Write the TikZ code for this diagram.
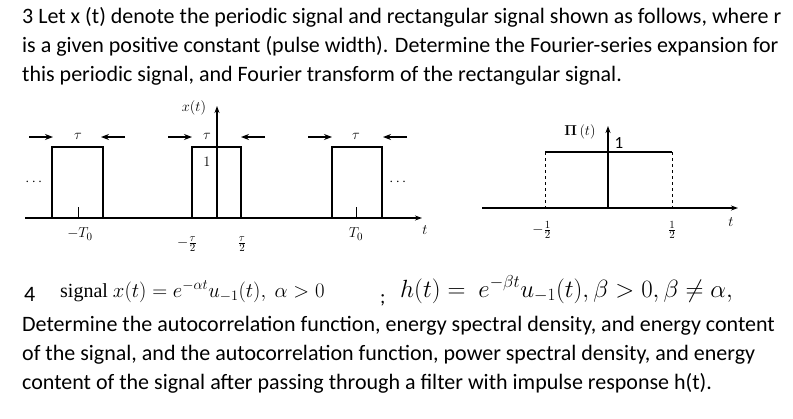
\documentclass[tikz,border=0pt]{standalone}
\usepackage[no-math]{fontspec}
\usepackage{amsmath}
\usetikzlibrary{arrows.meta}
\setmainfont{Carlito}
\newfontfamily\tms{Liberation Serif}
\begin{document}
\begin{tikzpicture}[x=1pt,y=-1pt,
  txt/.style={anchor=base west,inner sep=0pt,font=\fontsize{22}{24}\selectfont},
  sig/.style={line width=2.6pt},
  ax/.style={line width=2.2pt,-{Stealth[length=7pt,width=5pt]}},
  lab/.style={inner sep=0pt,font=\fontsize{15}{16}\selectfont},
  dimarr/.style={line width=1.2pt,-{Stealth[length=8pt,width=6pt]}}]
\useasboundingbox (0,0) rectangle (793,418);
\fill[white] (0,0) rectangle (793,418);
\node[txt] (l1) at (22,23) {3 Let x (t) denote the periodic signal and rectangular signal shown as follows, where r};
\node[txt] (l2) at (22,52) {is a given positive constant (pulse width). Determine the Fourier-series expansion for};
\node[txt] (l3) at (22,81) {this periodic signal, and Fourier transform of the rectangular signal.};
% left figure
\coordinate (a0) at (25,218); \coordinate (a1) at (422,218);
\draw[ax] (a0) -- (a1);
\coordinate (v0) at (217,218); \coordinate (v1) at (217,106);
\draw[ax] (v0) -- (v1);
\draw[sig] (52,218) -- (52,147) -- (103,147) -- (103,218);
\draw[sig] (192,218) -- (192,147) -- (241,147) -- (241,218);
\draw[sig] (332,218) -- (332,147) -- (382,147) -- (382,218);
\draw[line width=0.8pt] (78,218) -- (78,207) (356,218) -- (356,207);
\node[lab] (xt) at (194,108) {$x(t)$};
\node[lab] (one) at (207,162) {$1$};
\node[lab] (tm) at (80,234) {$-T_0$};
\node[lab] (tp) at (356,234) {$T_0$};
\node[lab] (hm) at (187,244) {$-\frac{\tau}{2}$};
\node[lab] (hp) at (242,244) {$\frac{\tau}{2}$};
\node[lab] (tl) at (425,230) {$t$};
\foreach \c/\l/\r in {78/29/125, 207/168/265, 356/308/407}{
  \node[lab] at (\c,136) {$\tau$};
  \draw[dimarr] (\l,137) -- (\l+24,137);
  \draw[dimarr] (\r,137) -- (\r-24,137);
}
\node[lab] (d1) at (35,182) {$\cdots$};
\node[lab] (d2) at (399,182) {$\cdots$};
% right figure
\draw[line width=1.5pt,-{Stealth[length=7pt,width=5pt]}] (482,208) -- (738,208);
\draw[line width=1.5pt,-{Stealth[length=7pt,width=5pt]}] (608,208) -- (608,126);
\draw[line width=2.4pt] (545,152) -- (672,152);
\draw[dashed,line width=0.9pt] (545,152) -- (545,208) (672,152) -- (672,208);
\node[lab] (pi) at (580,132) {$\mathbf{\Pi}\,(t)$};
\node[lab] (one2) at (619,143) {\fontsize{17}{17}\selectfont 1};
\node[lab] (m12) at (542,230) {$-\frac{1}{2}$};
\node[lab] (p12) at (672,230) {$\frac{1}{2}$};
\node[lab] (t2) at (731,222) {$t$};
% problem 4
\node[txt] (n4) at (24,301) {4};
\node[anchor=base west,inner sep=0pt,font=\fontsize{20}{22}\selectfont] (eq1) at (60,297) {\tms signal $x(t)=e^{-\alpha t}u_{-1}(t),\ \alpha>0$};
\node[anchor=base west,inner sep=0pt,font=\fontsize{20}{20}\selectfont] (sc) at (380,303) {;};
\node[anchor=base west,inner sep=0pt,font=\fontsize{27}{28}\selectfont] (eq2) at (400,297) {$h(t)=\ e^{-\beta t}u_{-1}(t),\beta>0,\beta\neq\alpha,$};
\node[txt] (l4) at (22,331) {Determine the autocorrelation function, energy spectral density, and energy content};
\node[txt] (l5) at (22,360) {of the signal, and the autocorrelation function, power spectral density, and energy};
\node[txt] (l6) at (22,389) {content of the signal after passing through a filter with impulse response h(t).};
\end{tikzpicture}
\end{document}
